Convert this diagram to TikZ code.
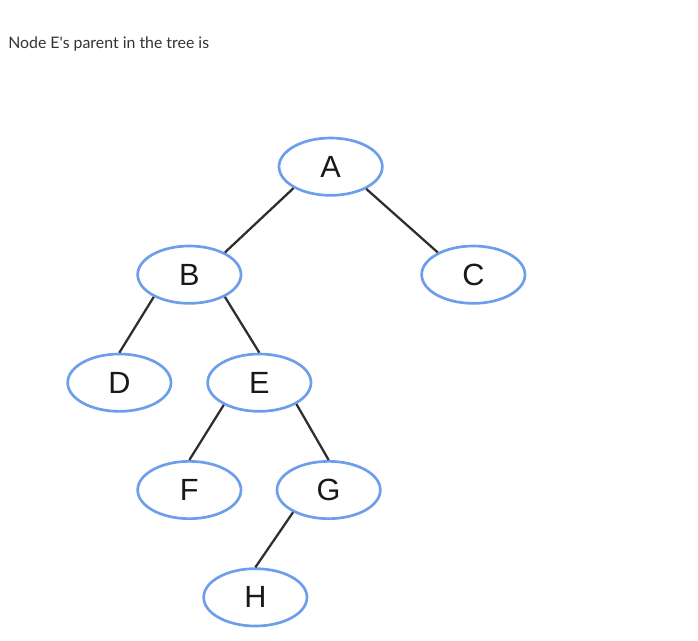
\documentclass[tikz,border=0pt]{standalone}
\usepackage{fontspec}
\setmainfont{Liberation Sans}
\newfontfamily\headfont{Lato}
\usetikzlibrary{positioning,shapes.geometric}

\definecolor{nodeblue}{HTML}{6D9EEB}
\definecolor{edgegray}{HTML}{2E2E2E}

\begin{document}
\begin{tikzpicture}[
        treenode/.style={ellipse, text=black!90, draw=nodeblue, fill=white, line width=2pt, minimum width=77.5pt, minimum height=43pt, inner sep=0pt, font=\fontsize{23}{26}\selectfont},
        treeedge/.style={draw=edgegray, line width=1.7pt},
        on grid,
]
        \useasboundingbox (0,0) rectangle (523.5pt,-480pt);
        \node[anchor=base west, text=black!80, inner sep=0pt, font=\headfont\fontsize{11.9}{14}\selectfont] (question) at (6pt,-36.5pt) {Node E's parent in the tree is};

        \node[treenode] (a) at (248pt,-125pt) {A};
        \node[treenode] (b) [below left=81pt and 106pt of a] {B};
        \node[treenode] (c) [below right=81pt and 107pt of a] {C};
        \node[treenode] (d) [below left=81pt and 52.5pt of b] {D};
        \node[treenode] (e) [below right=81pt and 52.5pt of b] {E};
        \node[treenode] (f) [below left=80.5pt and 52.5pt of e] {F};
        \node[treenode] (g) [below right=80.5pt and 52pt of e] {G};
        \node[treenode] (h) [below left=80.5pt and 55pt of g] {H};

        \draw[treeedge] (a.210) -- (b.32);
        \draw[treeedge] (a.-32) -- (c.148);
        \draw[treeedge] (b.212) -- (d.north);
        \draw[treeedge] (b.-32) -- (e.north);
        \draw[treeedge] (e.212) -- (f.north);
        \draw[treeedge] (e.-30) -- (g.north);
        \draw[treeedge] (g.212) -- (h.north);
\end{tikzpicture}
\end{document}
